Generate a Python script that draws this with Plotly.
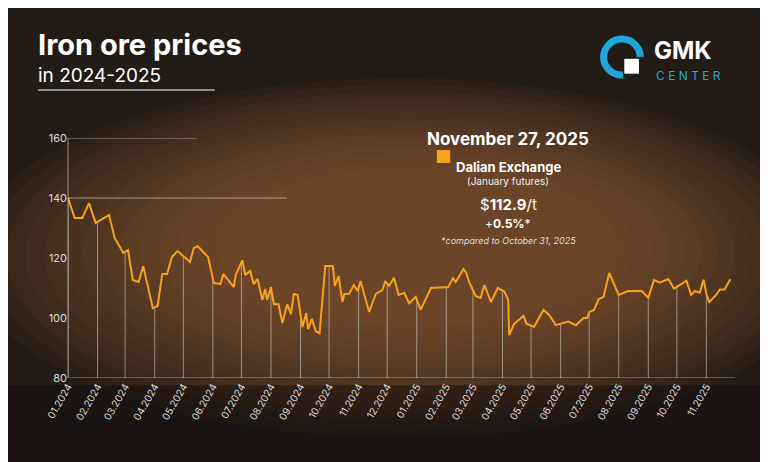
import numpy as np
import pandas as pd
import plotly.graph_objects as go

days = [0,7,15,22,29,43,49,58,63,68,74,79,89,94,99,104,109,115,128,132,136,147,153,160,163,167,174,176,183,186,191,195,199,204,207,209,213,216,221,225,230,234,237,241,246,250,252,256,260,264,270,278,280,284,288,290,295,300,304,307,316,323,330,333,337,342,347,353,358,365,370,381,399,404,407,415,418,421,428,433,437,444,451,458,462,463,468,478,481,489,499,505,512,525,533,541,545,547,552,557,562,568,572,578,588,602,609,615,621,626,630,636,649,654,658,663,667,670,673,681,684,689,695]
prices = [140,133.3,133.3,138.3,131.7,134.3,126.7,121.7,122.6,112.7,112,117.3,103.3,104,114.7,114.7,120.3,122.3,118.7,123.3,124,120.3,111.7,111.3,114.7,113,110.3,114.3,119.3,114.3,115.7,111.3,113,106,109.7,106,110.3,104.6,104.6,98.3,104.6,101.3,108,107.7,97,101.6,96.3,99.7,95.6,94.9,117.3,117.3,110.7,114,105.3,108,108,111,109,112.3,102,108,109.3,112.3,110.7,113.4,107.7,108.4,104.9,107.1,102.7,110,110.3,113.3,112,116.3,115,112,107.3,106.7,111,105.3,110,108.8,106,94.3,98,100.7,98.2,97,102.7,101,97.6,98.8,97.6,100,100,102,102.7,106.3,107,115,112.3,107.7,109,109,106.8,112.6,111.8,112.6,113,109.8,112.4,107.7,109,108.4,112.8,108,105.3,108,109.5,109.5,112.9]
months = pd.date_range("2024-01-01", "2025-11-01", freq="MS")
month_labels = [m.strftime("%m.%Y") for m in months]
y_ticks = [80, 100, 120, 140, 160]

dates = pd.Timestamp("2024-01-01") + pd.to_timedelta(days, unit="D")
fig = go.Figure()

mv = np.interp((months - pd.Timestamp("2024-01-01")).days, days, prices)
lx, ly = [], []
for m, v in zip(months, mv):
    lx += [m, m, None]; ly += [80, v, None]
fig.add_trace(go.Scatter(x=lx, y=ly, mode="lines", line=dict(color="rgba(220,220,220,0.55)", width=1), hoverinfo="skip"))
fig.add_trace(go.Scatter(x=dates, y=prices, mode="lines", line=dict(color="#f7a21b", width=2)))

fig.update_layout(
    width=768, height=462, margin=dict(l=60, r=41, t=130, b=92), showlegend=False,
    paper_bgcolor="#231b16", plot_bgcolor="rgba(0,0,0,0)",
    font=dict(family="Inter", color="white"),
    xaxis=dict(range=[pd.Timestamp("2024-01-01"), pd.Timestamp("2025-12-01")], tickvals=list(months), ticktext=month_labels,
               tickangle=-60, showgrid=False, zeroline=False, tickfont=dict(size=10, color="#dddddd"), showline=False),
    yaxis=dict(range=[80, 160], tickvals=y_ticks, showgrid=False, zeroline=False, tickfont=dict(size=11, color="#dddddd")),
)
# decorative soft background glow
for i in range(14):
    s = i / 14
    fig.add_shape(type="circle", xref="paper", yref="paper",
                  x0=-0.15 + 0.4 * s, x1=1.15 - 0.35 * s, y0=-0.25 + 0.5 * s, y1=1.25 - 0.4 * s,
                  fillcolor="rgba(150,95,50,0.07)", line=dict(width=0), layer="below")
fig.add_shape(type="rect", xref="paper", yref="paper", x0=-0.2, x1=1.2, y0=-0.4, y1=-0.03, fillcolor="rgba(15,12,10,0.45)", line=dict(width=0), layer="below")

ln = "rgba(220,220,220,0.6)"
fig.add_shape(type="line", xref="paper", yref="y", x0=0, x1=1, y0=80, y1=80, line=dict(color=ln, width=1))
fig.add_shape(type="line", xref="paper", yref="y", x0=0, x1=0.193, y0=160, y1=160, line=dict(color=ln, width=1))
fig.add_shape(type="line", xref="paper", yref="y", x0=0, x1=0.328, y0=140, y1=140, line=dict(color=ln, width=1))
fig.add_shape(type="line", xref="paper", yref="y", x0=0, x1=0, y0=80, y1=160, line=dict(color=ln, width=1))
fig.add_shape(type="line", xref="paper", yref="paper", x0=-0.045, x1=0.22, y0=1.2, y1=1.2, line=dict(color="white", width=1))
# logo
fig.add_shape(type="circle", xref="paper", yref="paper", x0=0.803, x1=0.858, y0=1.262, y1=1.412, line=dict(color="#1fa6d8", width=7))
fig.add_shape(type="rect", xref="paper", yref="paper", x0=0.832, x1=0.866, y0=1.25, y1=1.338, fillcolor="#231b16", line=dict(width=0))
fig.add_shape(type="rect", xref="paper", yref="paper", x0=0.834, x1=0.856, y0=1.268, y1=1.33, fillcolor="white", line=dict(width=0))
fig.add_shape(type="rect", xref="paper", yref="paper", x0=0.553, x1=0.573, y0=0.896, y1=0.95, fillcolor="#f7a21b", line=dict(width=0))

A = lambda **k: fig.add_annotation(xref="paper", yref="paper", showarrow=False, **k)
A(x=-0.048, y=1.47, text="<b>Iron ore prices</b>", font=dict(size=29, color="white"), xanchor="left")
A(x=-0.048, y=1.317, text="in 2024-2025", font=dict(size=19, color="white"), xanchor="left")
A(x=0.876, y=1.435, text="<b>GMK</b>", font=dict(size=24, color="white"), xanchor="left")
A(x=0.879, y=1.30, text="C E N T E R", font=dict(size=12, color="#1fa6d8"), xanchor="left")
A(x=0.66, y=1.046, text="<b>November 27, 2025</b>", font=dict(size=17, color="white"))
A(x=0.578, y=0.921, text="<b>Dalian Exchange</b>", font=dict(size=13, color="white"), xanchor="left")
A(x=0.66, y=0.854, text="(January futures)", font=dict(size=10, color="#eeeeee"))
A(x=0.66, y=0.77, text="$<b>112.9</b>/t", font=dict(size=15, color="white"))
A(x=0.66, y=0.683, text="+<b>0.5%</b>*", font=dict(size=12, color="white"))
A(x=0.66, y=0.575, text="<i>*compared to October 31, 2025</i>", font=dict(size=9, color="#dddddd"))
fig.write_html("out.html")
